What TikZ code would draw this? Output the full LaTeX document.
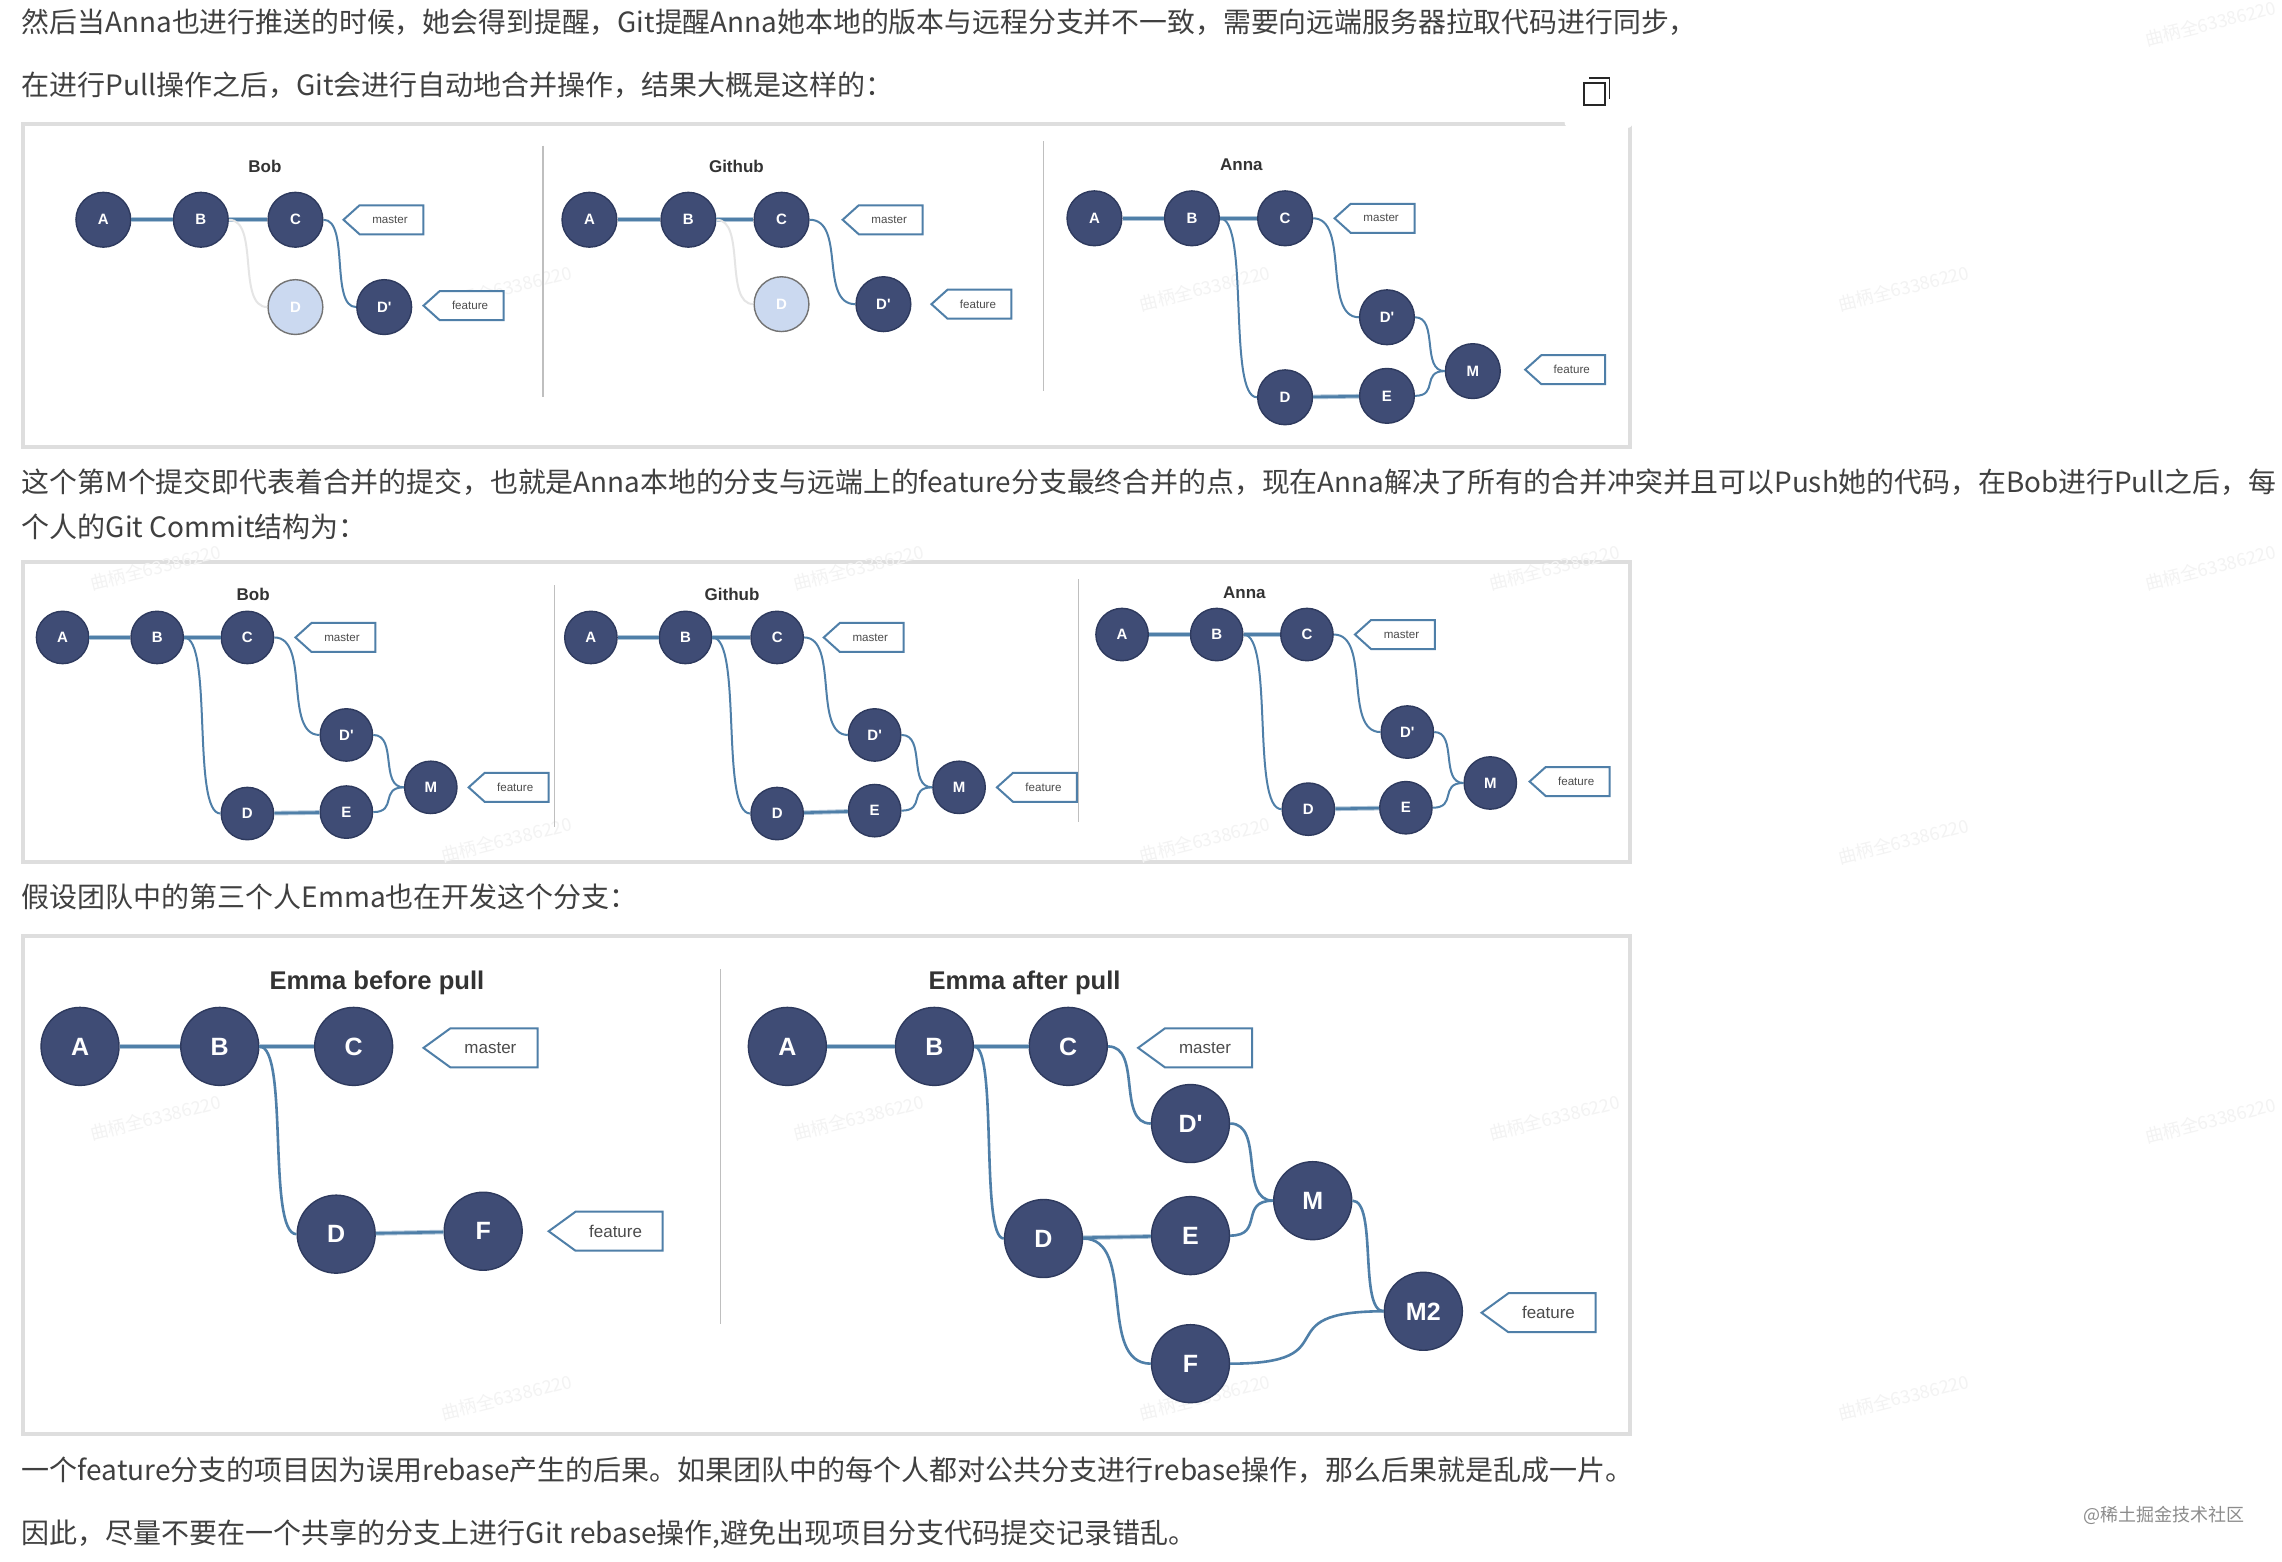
\documentclass[tikz,border=0pt]{standalone}
\usepackage{fontspec}
\setmainfont{Noto Sans CJK SC}
\newfontfamily\lat{Liberation Sans}
\usetikzlibrary{calc,shapes.symbols}
\definecolor{navy}{HTML}{3F4C75}
\definecolor{navyline}{HTML}{2E3A5E}
\definecolor{steel}{HTML}{4F7FA8}
\definecolor{pale}{HTML}{CBD9F0}
\definecolor{frameg}{HTML}{DEDEDE}
\definecolor{wm}{HTML}{F3F3F3}
\newcommand{\fork}[3][edgec]{\draw[#1] let \p1=(#2.east),\p2=(#3.west) in (\p1) .. controls ({\x1+.8*(\x2-\x1)},\y1) and ({\x1+.2*(\x2-\x1)},\y2) .. (\p2);}
\tikzset{
 x=0.7277pt,y=-0.7277pt,
 bodytext/.style={anchor=west,inner sep=0,outer sep=0,text=black!75,font=\fontsize{14}{16}\selectfont},
 panel/.style={draw=frameg,line width=2pt,fill=white},
 divider/.style={draw=black!25,line width=0.9pt},
 title/.style={inner sep=0,text=black!80,font=\lat\bfseries\fontsize{8.5}{10}\selectfont},
 bigtitle/.style={inner sep=0,text=black!80,font=\lat\bfseries\fontsize{12.8}{15}\selectfont},
 commitS/.style={circle,fill=navy,draw=navyline,line width=0.7pt,minimum size=27.4pt,inner sep=0,text=white,font=\lat\bfseries\fontsize{7.5}{9}\selectfont},
 commitM/.style={commitS,minimum size=26.2pt},
 commitL/.style={commitS,minimum size=39pt,font=\lat\bfseries\fontsize{12.5}{15}\selectfont},
 ghost/.style={fill=pale,draw=black!55,text=white},
 edgel/.style={draw=steel,line width=1.3pt,preaction={draw=steel!45,line width=2.3pt}},
 edgec/.style={draw=steel,line width=1pt},
 edgebig/.style={draw=steel,line width=1.3pt},
 edgefade/.style={draw=black!10,line width=1pt},
 tagS/.style={signal,signal to=west,signal pointer angle=84,draw=steel,line width=1pt,fill=white,outer sep=0,minimum width=40pt,minimum height=14.5pt,inner sep=0,text=black!70,font=\lat\fontsize{5.8}{7}\selectfont,anchor=west,execute at end node=\hspace{1.5pt}},
 tagL/.style={tagS,signal pointer angle=72,minimum width=57pt,minimum height=19.5pt,font=\lat\fontsize{8.5}{10}\selectfont,execute at end node=\hspace{2pt}},
 wmark/.style={inner sep=0,text=wm,rotate=14,font=\fontsize{9}{11}\selectfont}
}
\begin{document}
\begin{tikzpicture}
\useasboundingbox (0,0) rectangle (1568,1073.25);
\fill[white] (0,0) rectangle (1568,1073.25);
% panels
\draw[panel] (16,85) rectangle (1120,307);
\draw[panel] (16,386) rectangle (1120,592);
\draw[panel] (16,643) rectangle (1120,985);
% watermarks, behind everything else
\foreach \i/\px/\py in {1/348/198,2/828/198,3/1308/198,4/107/390,5/590/390,6/1068/390,7/1519/390,8/348/577,9/828/577,10/1308/578,11/107/768,12/590/768,13/1068/768,14/1519/770,15/348/960,16/828/960,17/1308/960,18/1519/16}
  \node[wmark] (w\i) at (\px,\py) {曲柄全63386220};
% body text
\node[bodytext,font=\fontsize{13.93}{16}\selectfont] (t1) at (15,15.5) {然后当Anna也进行推送的时候，她会得到提醒，Git提醒Anna她本地的版本与远程分支并不一致，需要向远端服务器拉取代码进行同步，};
\node[bodytext] (t2) at (15,58.5) {在进行Pull操作之后，Git会进行自动地合并操作，结果大概是这样的：};
\node[bodytext,font=\fontsize{13.93}{16}\selectfont] (t3) at (15,331.5) {这个第M个提交即代表着合并的提交，也就是Anna本地的分支与远端上的feature分支最终合并的点，现在Anna解决了所有的合并冲突并且可以Push她的代码，在Bob进行Pull之后，每};
\node[bodytext] (t4) at (15,362) {个人的Git Commit结构为：};
\node[bodytext] (t5) at (15,616.5) {假设团队中的第三个人Emma也在开发这个分支：};
\node[bodytext] (t6) at (15,1010) {一个feature分支的项目因为误用rebase产生的后果。如果团队中的每个人都对公共分支进行rebase操作，那么后果就是乱成一片。};
\node[bodytext] (t7) at (15,1054) {因此，尽量不要在一个共享的分支上进行Git rebase操作,避免出现项目分支代码提交记录错乱。};
\node[inner sep=0,text=black!45,font=\fontsize{9}{11}\selectfont] (site) at (1487,1041) {@稀土掘金技术社区};
% copy icon
\fill[white,rounded corners=3pt] (1075,44) rectangle (1122,88);
\draw[black!85,line width=1pt] (1088.5,57) rectangle (1102.5,72);
\draw[black!85,line width=0.8pt] (1092,53.5) -- (1106,53.5) -- (1106,68);
% ---- panel 1
\draw[divider] (373,100) -- (373,273);
\draw[divider] (717,97) -- (717,269);
\node[title] (p1bob) at (182,114.5) {Bob};
\node[title] (p1git) at (506,114.5) {Github};
\node[title] (p1ann) at (853,113.5) {Anna};
\foreach \n/\l/\px/\py in {aA/A/71/151,aB/B/138/151,aC/C/203/151,aE/D'/264/211,
  bA/A/405/151,bB/B/473/151,bC/C/537/151,bE/D'/607/209,
  cA/A/752/150,cB/B/819/150,cC/C/883/150,cE/D'/953/218,cD/D/883/273,cF/E/953/272,cM/M/1012/255}
  \node[commitS] (\n) at (\px,\py) {\l};
\node[commitS,ghost] (aD) at (203,211) {D};
\node[commitS,ghost] (bD) at (537,209) {D};
\draw[edgel] (aA) -- (aB); \draw[edgel] (aB) -- (aC);
\draw[edgel] (bA) -- (bB); \draw[edgel] (bB) -- (bC);
\draw[edgel] (cA) -- (cB); \draw[edgel] (cB) -- (cC);
\draw[edgel] (cD) -- (cF);
\fork[edgefade]{aB}{aD}\fork{aC}{aE}
\fork[edgefade]{bB}{bD}\fork{bC}{bE}
\fork{cB}{cD}\fork{cC}{cE}\fork{cE}{cM}\fork{cF}{cM}
\node[tagS] (amaster) at (236,151) {master};
\node[tagS] (afeature) at (291,210) {feature};
\node[tagS] (bmaster) at (579,151) {master};
\node[tagS] (bfeature) at (640,209) {feature};
\node[tagS] (cmaster) at (917,150) {master};
\node[tagS] (cfeature) at (1048,254) {feature};
% ---- panel 2
\draw[divider] (381,402) -- (381,568);
\draw[divider] (741,398) -- (741,565);
\node[title] (p2bob) at (174,408.5) {Bob};
\node[title] (p2git) at (503,408.5) {Github};
\node[title] (p2ann) at (855,407.5) {Anna};
\foreach \n/\l/\px/\py in {dA/A/43/438,dB/B/108/438,dC/C/170/438,dE/D'/238/505,dD/D/170/559,dF/E/238/558,dM/M/296/541,
  eA/A/406/438,eB/B/471/438,eC/C/534/438,eE/D'/601/505,eD/D/534/559,eF/E/601/557,eM/M/659/541,
  fA/A/771/436,fB/B/836/436,fC/C/898/436,fE/D'/967/503,fD/D/899/556,fF/E/966/555,fM/M/1024/538}
  \node[commitM] (\n) at (\px,\py) {\l};
\foreach \pre in {d,e,f}{
  \draw[edgel] (\pre A) -- (\pre B); \draw[edgel] (\pre B) -- (\pre C); \draw[edgel] (\pre D) -- (\pre F);
  \fork{\pre B}{\pre D}\fork{\pre C}{\pre E}\fork{\pre E}{\pre M}\fork{\pre F}{\pre M}
}
\node[tagS] (dmaster) at (203,438) {master};
\node[tagS] (dfeature) at (322,541) {feature};
\node[tagS] (emaster) at (566,438) {master};
\node[tagS] (efeature) at (685,541) {feature};
\node[tagS] (fmaster) at (931,436) {master};
\node[tagS] (ffeature) at (1051,537) {feature};
% ---- panel 3
\draw[divider] (495,666) -- (495,910);
\node[bigtitle] (p3a) at (259,675.5) {Emma before pull};
\node[bigtitle] (p3b) at (704,675.5) {Emma after pull};
\foreach \n/\l/\px/\py in {gA/A/55/719,gB/B/151/719,gC/C/243/719,gD/D/231/848,gF/F/332/846,
  hA/A/541/719,hB/B/642/719,hC/C/734/719,hE/D'/818/772,hM/M/902/825,hG/E/818/849,hD/D/717/851,hF/F/818/937,hN/M2/978/901}
  \node[commitL] (\n) at (\px,\py) {\l};
\draw[edgel] (gA) -- (gB); \draw[edgel] (gB) -- (gC); \draw[edgel] (gD) -- (gF);
\draw[edgel] (hA) -- (hB); \draw[edgel] (hB) -- (hC); \draw[edgel] (hD) -- (hG);
\fork[edgebig]{gB}{gD}
\fork[edgebig]{hB}{hD}\fork[edgebig]{hC}{hE}\fork[edgebig]{hE}{hM}\fork[edgebig]{hG}{hM}\fork[edgebig]{hD}{hF}\fork[edgebig]{hM}{hN}\fork[edgebig]{hF}{hN}
\node[tagL] (gmaster) at (291,720) {master};
\node[tagL] (gfeature) at (377,846) {feature};
\node[tagL] (hmaster) at (782,720) {master};
\node[tagL] (hfeature) at (1018,902) {feature};
\end{tikzpicture}
\end{document}
